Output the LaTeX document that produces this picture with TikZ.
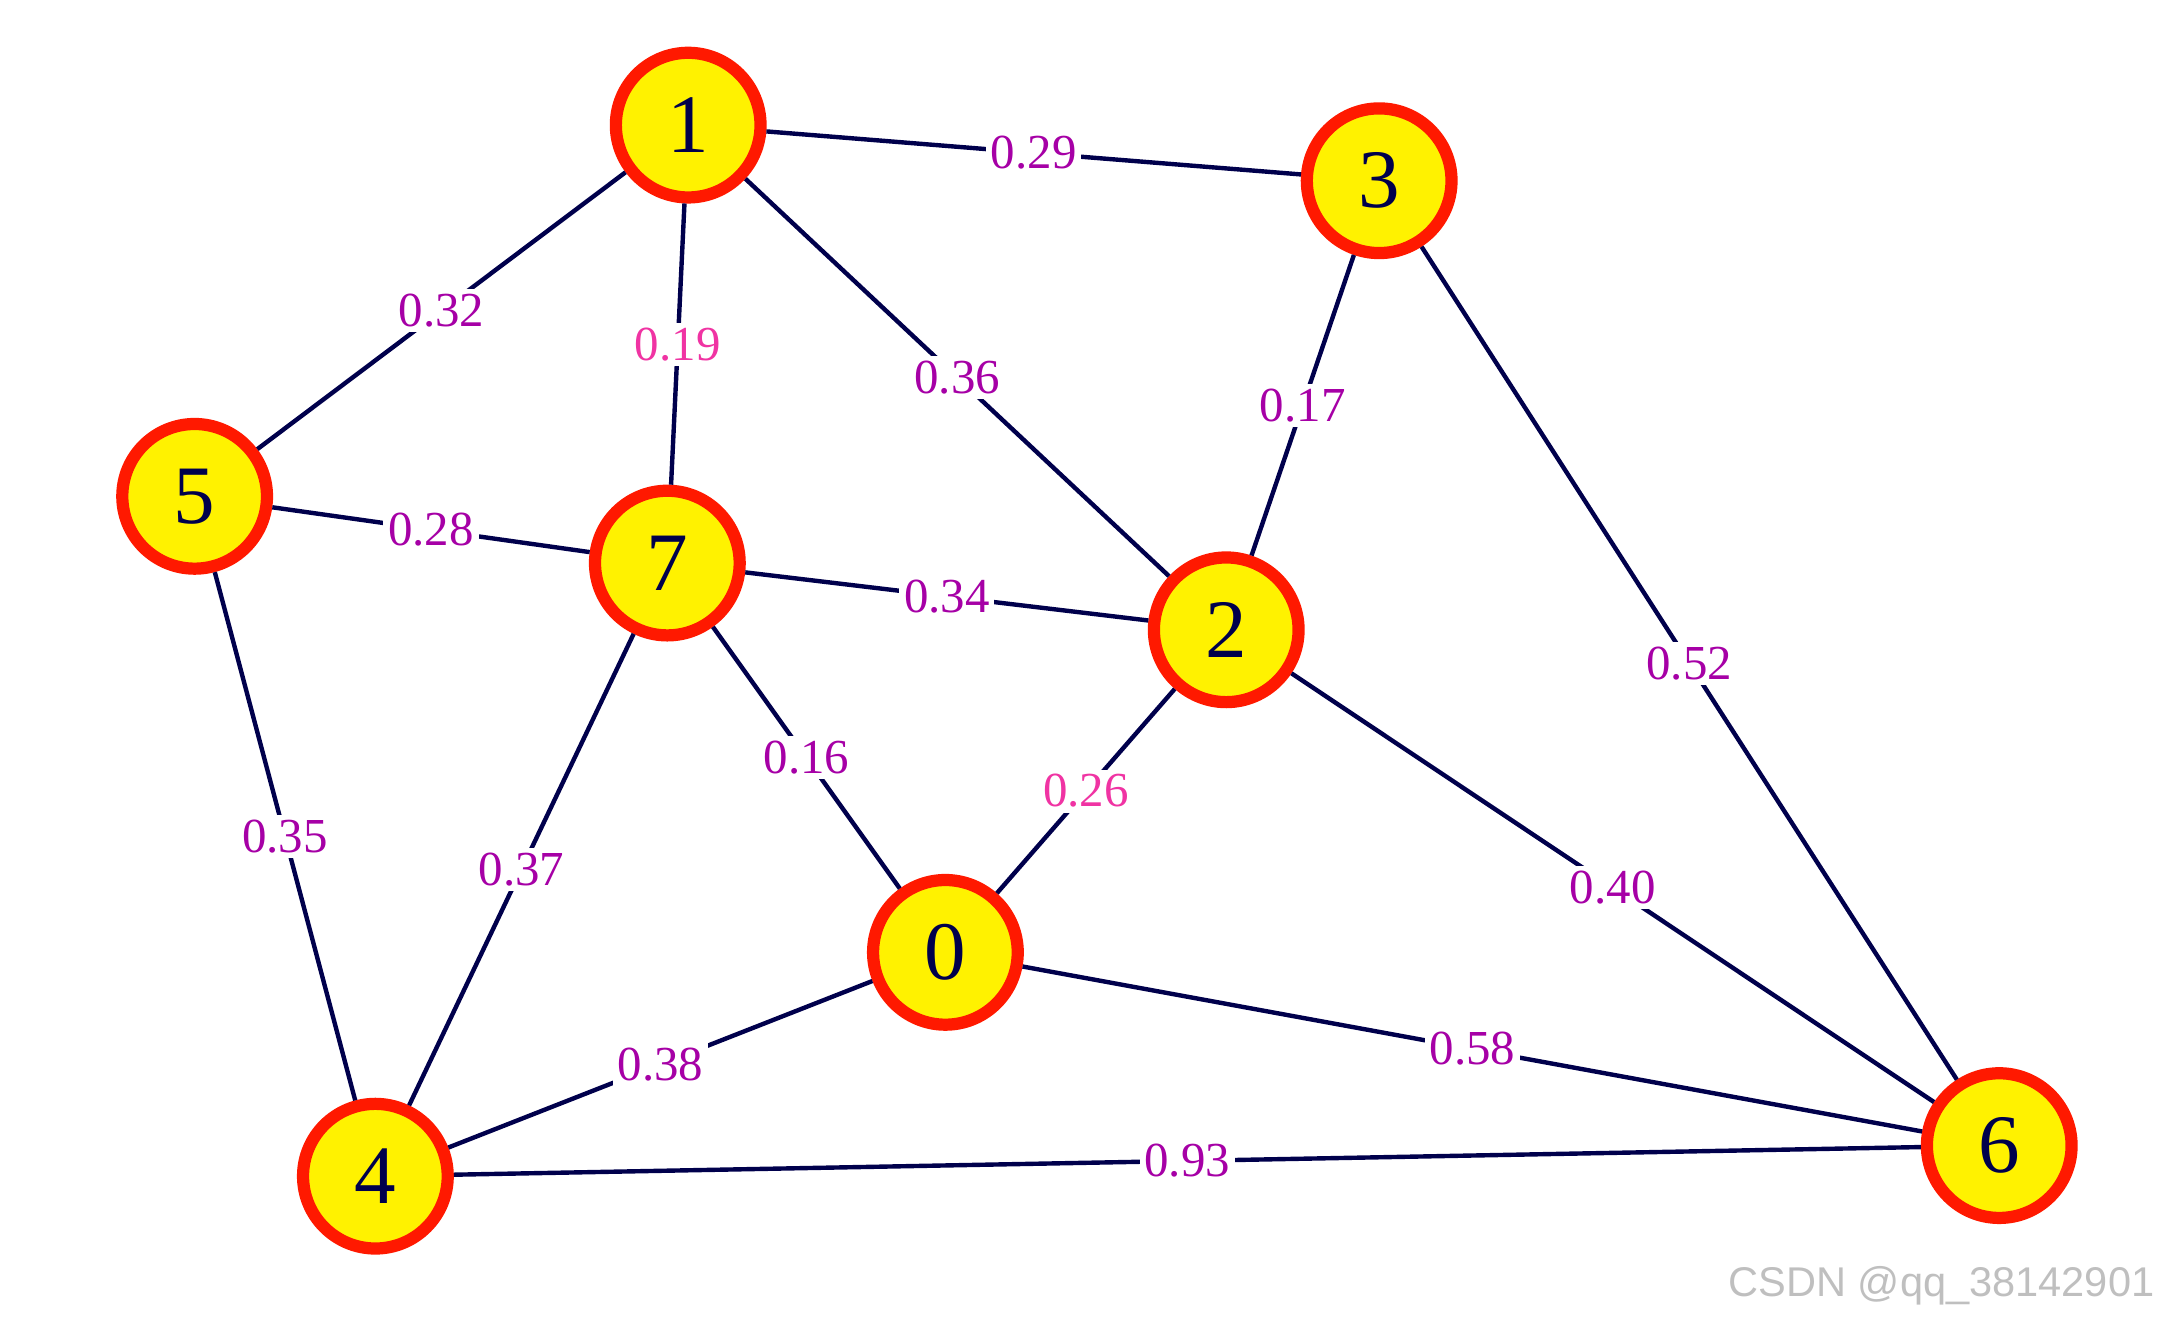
\documentclass[tikz,border=0pt]{standalone}
\usepackage{fontspec}
\setmainfont{Liberation Serif}
\newfontfamily\wmfont{Liberation Sans}
\begin{document}
\begin{tikzpicture}[x=0.01cm,y=-0.01cm,
  vnode/.style={circle,draw=red!80!orange,line width=2.5pt,fill=yellow,minimum size=1.04cm,inner sep=0pt,text=blue!30!black,font=\fontsize{17}{17}\selectfont},
  edge/.style={draw=blue!30!black,line width=0.9pt},
  wlab/.style={fill=white,inner sep=1pt,text=violet!70!magenta,font=\fontsize{10}{10}\selectfont},
  plab/.style={wlab,text=magenta!80!white}]
\useasboundingbox (0,0) rectangle (1568,952);
\node[vnode] (n1) at (495,90) {1};
\node[vnode] (n3) at (992,130) {3};
\node[vnode] (n5) at (140,357) {5};
\node[vnode] (n7) at (480,405) {7};
\node[vnode] (n2) at (882,453) {2};
\node[vnode] (n0) at (680,685) {0};
\node[vnode] (n4) at (270,846) {4};
\node[vnode] (n6) at (1438,824) {6};
\begin{scope}[on background layer/.style={}]
\end{scope}
\draw[edge] (n1) -- node[wlab]{0.29} (n3);
\draw[edge] (n1) -- node[wlab]{0.32} (n5);
\draw[edge] (n1) -- node[plab]{0.19} (n7);
\draw[edge] (n1) -- node[wlab]{0.36} (n2);
\draw[edge] (n3) -- node[wlab]{0.17} (n2);
\draw[edge] (n3) -- node[wlab]{0.52} (n6);
\draw[edge] (n5) -- node[wlab]{0.28} (n7);
\draw[edge] (n7) -- node[wlab]{0.34} (n2);
\draw[edge] (n5) -- node[wlab]{0.35} (n4);
\draw[edge] (n7) -- node[wlab]{0.37} (n4);
\draw[edge] (n7) -- node[wlab]{0.16} (n0);
\draw[edge] (n2) -- node[plab]{0.26} (n0);
\draw[edge] (n2) -- node[wlab]{0.40} (n6);
\draw[edge] (n0) -- node[wlab]{0.38} (n4);
\draw[edge] (n0) -- node[wlab]{0.58} (n6);
\draw[edge] (n4) -- node[wlab]{0.93} (n6);
\node[text=gray!50,font=\wmfont\fontsize{8.5}{8.5}\selectfont,anchor=east] (wm) at (1562,925) {CSDN @qq\_38142901};
\end{tikzpicture}
\end{document}
